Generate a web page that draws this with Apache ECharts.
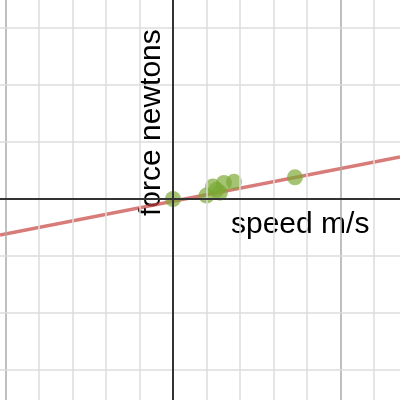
<!DOCTYPE html>
<html><head><meta charset="utf-8">
<script src="https://cdn.jsdelivr.net/npm/echarts@6/dist/echarts.min.js"></script>
<style>html,body{margin:0;padding:0;background:#fff}#c{width:400px;height:400px}</style>
</head><body><div id="c"></div>
<script>
const speed = [0, 1.0, 1.19, 1.40, 1.52, 1.82, 3.64, 1.30];
const force = [0, 0.06, 0.22, 0.11, 0.28, 0.30, 0.38, 0.16];
const fitSlope = 0.1147, fitIntercept = -0.04;
const xMinorLines = [-5,-4,-3,-2,-1,1,2,3,4,5,6];
const xMajorLines = [-5,5];
const yMinorLines = [-3,-2,-1,1,2,3];
const xRange = [-5.164, 6.776], yRange = [-3.526, 3.49];

const chart = echarts.init(document.getElementById('c'));
const pts = speed.map((s,i)=>[s,force[i]]);
const lineData = xRange.map(x=>[x, fitSlope*x+fitIntercept]);
chart.setOption({
  animation:false,
  grid:{left:0,right:0,top:0,bottom:0},
  xAxis:{type:'value',min:xRange[0],max:xRange[1],show:false,splitLine:{show:false}},
  yAxis:{type:'value',min:yRange[0],max:yRange[1],show:false,splitLine:{show:false}},
  series:[
    {type:'line',data:[],silent:true,
     markLine:{symbol:'none',silent:true,label:{show:false},
      data:[
        ...xMinorLines.filter(v=>!xMajorLines.includes(v)).map(v=>({xAxis:v,lineStyle:{color:'#dcdcdc',width:1.5,type:'solid'}})),
        ...xMajorLines.map(v=>({xAxis:v,lineStyle:{color:'#aaaaaa',width:1.5,type:'solid'}})),
        ...yMinorLines.map(v=>({yAxis:v,lineStyle:{color:'#dcdcdc',width:1.5,type:'solid'}})),
        {xAxis:0,lineStyle:{color:'#333',width:2,type:'solid'}},
        {yAxis:0,lineStyle:{color:'#333',width:2,type:'solid'}}
      ]}},
    {type:'line',data:lineData,symbol:'none',lineStyle:{color:'rgba(199,68,64,0.7)',width:3.5},z:3},
    {type:'scatter',data:pts,symbolSize:16,itemStyle:{color:'rgba(122,168,52,0.85)'},z:4}
  ],
  graphic:[
    {type:'text',left:231,top:210,style:{text:'speed m/s',font:'30px "Liberation Sans", Arial',fill:'#000'}},
    {type:'text',x:137,y:216,rotation:Math.PI/2,style:{text:'force newtons',font:'30px "Liberation Sans", Arial',fill:'#000'}}
  ]
});
</script></body></html>
